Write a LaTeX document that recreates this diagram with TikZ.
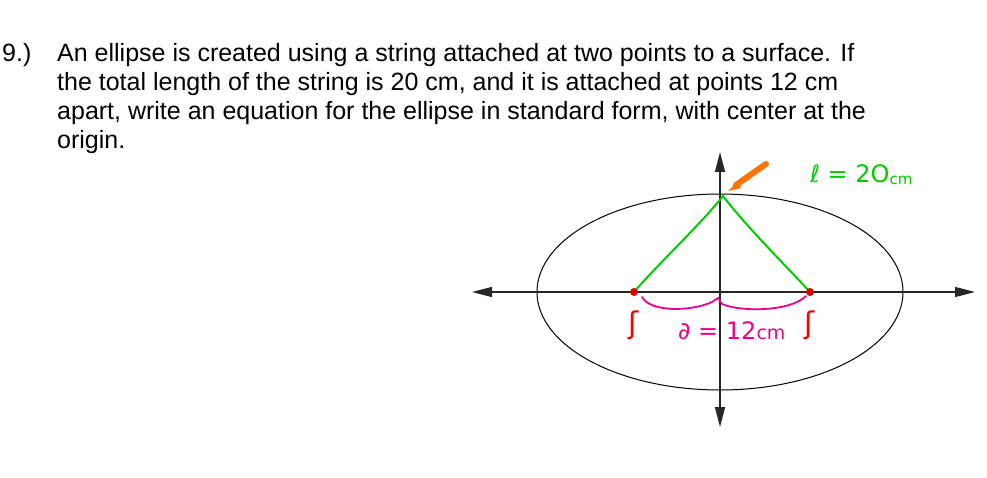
\documentclass[tikz,border=0pt]{standalone}
\usepackage{fontspec}
\setmainfont{Liberation Sans}
\newfontfamily\handfont{DejaVu Sans}
\usetikzlibrary{arrows.meta}
\begin{document}
\begin{tikzpicture}[x=1pt,y=-1pt,
  qtext/.style={anchor=base west,inner sep=0pt,font=\fontsize{25}{29}\selectfont},
  axis/.style={line width=1.4pt,draw=black!85,-{Triangle[length=20pt,width=10pt]}},
  string/.style={draw=green!80!black,line width=2pt,line join=round},
  hand/.style={inner sep=0pt,font=\handfont\fontsize{24}{24}\selectfont}]
\useasboundingbox (0,0) rectangle (987,478);
\node[qtext] (num) at (2,62) {9.)};
\node[qtext] (l1) at (57,62) {An ellipse is created using a string attached at two points to a surface. If};
\node[qtext] (l2) at (57,91) {the total length of the string is 20 cm, and it is attached at points 12 cm};
\node[qtext] (l3) at (57,120) {apart, write an equation for the ellipse in standard form, with center at the};
\node[qtext] (l4) at (57,149) {origin.};
% coordinates
\coordinate (O) at (720,292);
\coordinate (xl) at (472,292);
\coordinate (xr) at (975,292);
\coordinate (yt) at (720,152);
\coordinate (yb) at (720,427);
\coordinate (F1) at (634,292);
\coordinate (F2) at (810,292);
\coordinate (P) at (723,196);
% ellipse
\draw[line width=1pt] (O) ellipse [x radius=183, y radius=98];
% axes
\draw[axis] (O) -- (xl);
\draw[axis] (O) -- (xr);
\draw[axis] (O) -- (yt);
\draw[axis] (O) -- (yb);
% string
\draw[string] (F1) .. controls (660,262) and (700,225) .. (P) .. controls (745,225) and (785,265) .. (F2);
% foci
\fill[red!85!black] (F1) circle (4);
\fill[red!85!black] (F2) circle (4);
% pencil
\coordinate (pt) at (728,191);
\coordinate (pe) at (766,164);
\draw[orange!90!red,line width=6pt,line cap=round] (736,185) -- (pe);
\fill[orange!90!red] (pt) -- (738,181) -- (741,188) -- cycle;
% brace
\draw[magenta,line width=1.8pt,line cap=round] (642,297) .. controls (650,312) and (690,312) .. (712,302) -- (718,298) -- (722,304) .. controls (740,312) and (790,312) .. (806,296);
% labels
\node[hand,text=green!80!black,anchor=west] (len) at (810,175) {ℓ = 2O\raisebox{-2pt}{\fontsize{15}{15}\selectfont cm}};
\node[hand,text=magenta,anchor=west] (dist) at (678,331) {∂ = 12\fontsize{19}{19}\selectfont cm};
\node[hand,text=red,font=\handfont\fontsize{30}{30}\selectfont] (f1) at (634,325) {ʃ};
\node[hand,text=red,font=\handfont\fontsize{30}{30}\selectfont] (f2) at (810,325) {ʃ};
\end{tikzpicture}
\end{document}
